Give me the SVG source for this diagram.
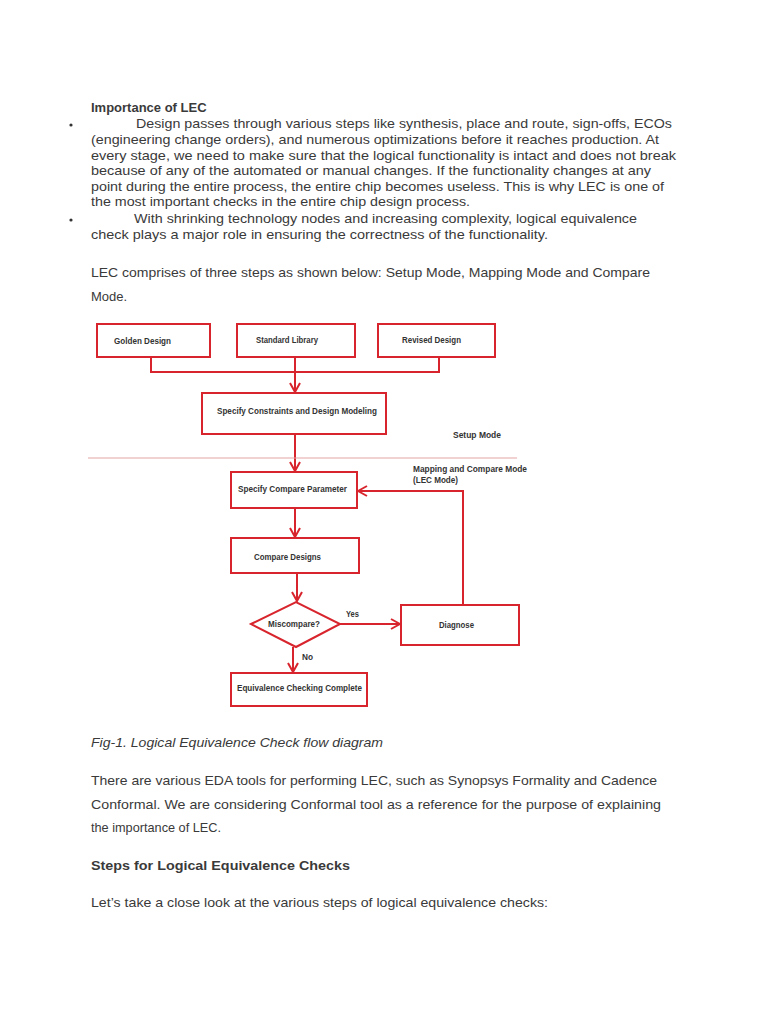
<svg xmlns="http://www.w3.org/2000/svg" width="768" height="1024" viewBox="0 0 768 1024">
<style>
.t{font-family:"Liberation Sans",Arial,sans-serif;font-size:13px;fill:#3a3a3a}
.b{font-weight:bold}
.i{font-style:italic}
.n{fill:#fff;stroke:#d8252d;stroke-width:2}
.l{font-family:"Liberation Sans",Arial,sans-serif;font-size:9.3px;font-weight:bold;fill:#333}
.c{fill:none;stroke:#d8252d;stroke-width:2}
</style>
<defs>
<marker id="a" viewBox="0 0 12 12" refX="11" refY="6" markerWidth="12" markerHeight="12" markerUnits="userSpaceOnUse" orient="auto">
<polyline points="2,1 11,6 2,11" fill="none" stroke="#d8252d" stroke-width="2"/>
</marker>
</defs>
<rect width="768" height="1024" fill="#fff"/>
<g id="text-top">
<text class="t b" x="91" y="112">Importance of LEC</text>
<circle cx="71" cy="125" r="1.6" fill="#333"/>
<circle cx="71" cy="220" r="1.6" fill="#333"/>
<text class="t" x="136" y="128" textLength="536" lengthAdjust="spacingAndGlyphs">Design passes through various steps like synthesis, place and route, sign-offs, ECOs</text>
<text class="t" x="91" y="144" textLength="568" lengthAdjust="spacingAndGlyphs">(engineering change orders), and numerous optimizations before it reaches production. At</text>
<text class="t" x="91" y="159.5" textLength="585" lengthAdjust="spacingAndGlyphs">every stage, we need to make sure that the logical functionality is intact and does not break</text>
<text class="t" x="91" y="175" textLength="560" lengthAdjust="spacingAndGlyphs">because of any of the automated or manual changes. If the functionality changes at any</text>
<text class="t" x="91" y="190.5" textLength="573" lengthAdjust="spacingAndGlyphs">point during the entire process, the entire chip becomes useless. This is why LEC is one of</text>
<text class="t" x="91" y="206" textLength="379" lengthAdjust="spacingAndGlyphs">the most important checks in the entire chip design process.</text>
<text class="t" x="134" y="223" textLength="503" lengthAdjust="spacingAndGlyphs">With shrinking technology nodes and increasing complexity, logical equivalence</text>
<text class="t" x="91" y="238.5" textLength="457" lengthAdjust="spacingAndGlyphs">check plays a major role in ensuring the correctness of the functionality.</text>
<text class="t" x="91" y="277" textLength="559" lengthAdjust="spacingAndGlyphs">LEC comprises of three steps as shown below: Setup Mode, Mapping Mode and Compare</text>
<text class="t" x="91" y="301">Mode.</text>
</g>
<g id="connectors">
<path class="c" d="M151,357 V372 H439 V357"/>
<path class="c" d="M295,357 V392" marker-end="url(#a)"/>
<path class="c" d="M295,434 V471" marker-end="url(#a)"/>
<path class="c" d="M295,508 V537" marker-end="url(#a)"/>
<path class="c" d="M297,573 V601" marker-end="url(#a)"/>
<path class="c" d="M340,624 H400" marker-end="url(#a)"/>
<path class="c" d="M463,605 V491 H358" marker-end="url(#a)"/>
<path class="c" d="M293,647 V672" marker-end="url(#a)"/>
<line x1="88" y1="458" x2="517" y2="458" stroke="#e6a3a6" stroke-width="1.2"/>
<text class="l" x="346" y="617" textLength="13" lengthAdjust="spacingAndGlyphs">Yes</text>
<text class="l" x="302" y="660" textLength="11" lengthAdjust="spacingAndGlyphs">No</text>
</g>
<g id="golden-design">
<rect class="n" x="97" y="324" width="113" height="33"/>
<text class="l" x="114" y="344" textLength="57" lengthAdjust="spacingAndGlyphs">Golden Design</text>
</g>
<g id="standard-library">
<rect class="n" x="237" y="324" width="118" height="33"/>
<text class="l" x="256" y="343" textLength="62" lengthAdjust="spacingAndGlyphs">Standard Library</text>
</g>
<g id="revised-design">
<rect class="n" x="378" y="324" width="117" height="33"/>
<text class="l" x="402" y="343" textLength="59" lengthAdjust="spacingAndGlyphs">Revised Design</text>
</g>
<g id="specify-constraints">
<rect class="n" x="202" y="393" width="184" height="41"/>
<text class="l" x="217" y="414" textLength="160" lengthAdjust="spacingAndGlyphs">Specify Constraints and Design Modeling</text>
</g>
<g id="setup-mode">
<text class="l" x="453" y="438" textLength="48" lengthAdjust="spacingAndGlyphs">Setup Mode</text>
</g>
<g id="mapping-mode">
<text class="l" x="413" y="472" textLength="114" lengthAdjust="spacingAndGlyphs">Mapping and Compare Mode</text>
<text class="l" x="413" y="483" textLength="45" lengthAdjust="spacingAndGlyphs">(LEC Mode)</text>
</g>
<g id="specify-compare">
<rect class="n" x="231" y="472" width="126" height="36"/>
<text class="l" x="238" y="492" textLength="109" lengthAdjust="spacingAndGlyphs">Specify Compare Parameter</text>
</g>
<g id="compare-designs">
<rect class="n" x="231" y="538" width="128" height="35"/>
<text class="l" x="254" y="560" textLength="67" lengthAdjust="spacingAndGlyphs">Compare Designs</text>
</g>
<g id="miscompare">
<polygon class="n" points="251,624 296,602 340,624 296,647"/>
<text class="l" x="268" y="627" textLength="52" lengthAdjust="spacingAndGlyphs">Miscompare?</text>
</g>
<g id="diagnose">
<rect class="n" x="401" y="605" width="118" height="40"/>
<text class="l" x="439" y="628" textLength="35" lengthAdjust="spacingAndGlyphs">Diagnose</text>
</g>
<g id="equivalence-complete">
<rect class="n" x="231" y="673" width="136" height="33"/>
<text class="l" x="237" y="691" textLength="125" lengthAdjust="spacingAndGlyphs">Equivalence Checking Complete</text>
</g>
<g id="text-bottom">
<text class="t i" x="91" y="747" textLength="292" lengthAdjust="spacingAndGlyphs">Fig-1. Logical Equivalence Check flow diagram</text>
<text class="t" x="91" y="785" textLength="566" lengthAdjust="spacingAndGlyphs">There are various EDA tools for performing LEC, such as Synopsys Formality and Cadence</text>
<text class="t" x="91" y="809" textLength="570" lengthAdjust="spacingAndGlyphs">Conformal. We are considering Conformal tool as a reference for the purpose of explaining</text>
<text class="t" x="91" y="832" textLength="130" lengthAdjust="spacingAndGlyphs">the importance of LEC.</text>
<text class="t b" x="91" y="870" textLength="259" lengthAdjust="spacingAndGlyphs">Steps for Logical Equivalence Checks</text>
<text class="t" x="91" y="907" textLength="457" lengthAdjust="spacingAndGlyphs">Let’s take a close look at the various steps of logical equivalence checks:</text>
</g>
</svg>
